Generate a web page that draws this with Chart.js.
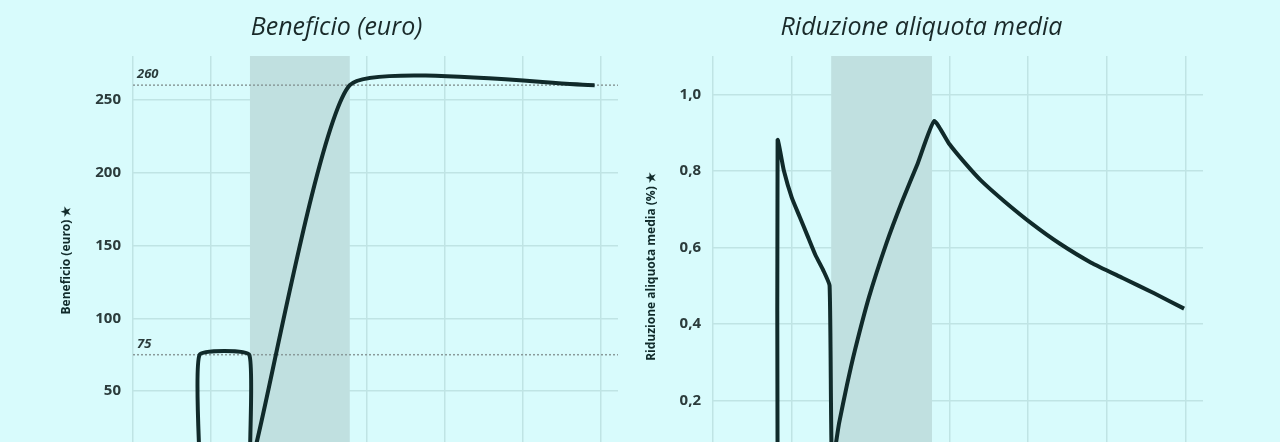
<!DOCTYPE html>
<html><head><meta charset="utf-8">
<script src="https://cdn.jsdelivr.net/npm/chart.js@4"></script>
<style>
html,body{margin:0;padding:0;background:#d8fbfc;overflow:hidden;width:1280px;height:442px}
.c{position:absolute;top:0}
</style></head><body>
<div class="c" style="left:0;width:640px;height:504px"><canvas id="a"></canvas></div>
<div class="c" style="left:640px;width:640px;height:517px"><canvas id="b"></canvas></div>
<script>
const xTicks=[5000,10000,15000,20000,25000,30000,35000];
const beneficioX=[9270,9270,12450,12570,18900,34600];
const beneficioY=[0,75,75,0,260,260];
const aliquotaX=[9100,9100,9500,10000,10500,11000,11500,12000,12400,12550,13000,13500,14000,14900,16000,17000,18000,19040,20000,21000,22000,23500,25300,27000,29000,31000,33000,34900];
const aliquotaY=[0,0.88,0.80,0.73,0.68,0.63,0.58,0.54,0.50,0.03,0.14,0.24,0.33,0.47,0.61,0.72,0.82,0.93,0.87,0.82,0.775,0.72,0.66,0.61,0.56,0.52,0.48,0.44];
const refLines=[260,75];
const band=[12500,18900];

const ink='#102a2a', grid='#bfe4e4';
function pts(xs,ys){return xs.map((x,i)=>({x,y:ys[i]}));}
const shade={id:'shade',beforeDatasetsDraw(c,a,o){const {ctx,chartArea:ca,scales:{x}}=c;ctx.save();ctx.fillStyle='#c0e0e0';
 const x0=x.getPixelForValue(o.from),x1=x.getPixelForValue(o.to);ctx.fillRect(x0,ca.top,x1-x0,ca.bottom-ca.top);ctx.restore();}};
const refLbl={id:'refLbl',afterDatasetsDraw(c,a,o){if(!o.vals)return;const {ctx,chartArea:ca,scales:{y}}=c;ctx.save();ctx.fillStyle='#2b3b3b';
 ctx.font='italic bold 13px "Open Sans"';ctx.textBaseline='bottom';o.vals.forEach(v=>ctx.fillText(String(v),ca.left+4,y.getPixelForValue(v)-4));ctx.restore();}};

function make(id,data,ymax,step,fmtY,ytitle,title,padLeft,yw,padRight,refs){
 const ds=[{data:data,borderColor:ink,borderWidth:4,pointRadius:0,tension:0.15,borderJoinStyle:'miter'}];
 refs.forEach(v=>ds.push({data:[{x:5000,y:v},{x:36100,y:v}],borderColor:'#8a9a9a',borderWidth:1.5,borderDash:[2,2],pointRadius:0}));
 new Chart(document.getElementById(id),{type:'line',data:{datasets:ds},
 options:{responsive:true,maintainAspectRatio:false,animation:false,
  layout:{padding:{right:padRight,left:padLeft,bottom:0,top:0}},
  plugins:{legend:{display:false},tooltip:{enabled:false},
   title:{display:true,text:title,color:'#1a2a2a',font:{family:'Open Sans',size:25,style:'italic',weight:'normal'},padding:{top:13,bottom:13}},
   shade:{from:band[0],to:band[1]},refLbl:{vals:refs}},
  scales:{
   x:{type:'linear',min:5000,max:36100,afterBuildTicks(s){s.ticks=xTicks.map(v=>({value:v}));},afterFit(s){s.height=40;},
    grid:{color:grid,lineWidth:1.5,drawTicks:false},border:{display:false},
    ticks:{color:'#2b3b3b',font:{family:'Open Sans',size:14,weight:'bold'},padding:8,callback:v=>v.toLocaleString('it-IT')}},
   y:{min:0,max:ymax,afterFit(s){s.width=yw;},
    grid:{color:c=>(Math.abs(c.tick.value/step-Math.round(c.tick.value/step))<1e-6?grid:'transparent'),lineWidth:1.5,drawTicks:false},border:{display:false},
    title:{display:true,text:ytitle,color:ink,font:{family:'Open Sans',size:12,weight:'bold'},padding:{bottom:14}},
    ticks:{stepSize:step,color:'#2b3b3b',font:{family:'Open Sans',size:15,weight:'bold'},padding:12,
     callback:v=>(Math.abs(v/step-Math.round(v/step))<1e-6?fmtY(v):'')}}}},
 plugins:[shade,refLbl]});
}
make('a',pts(beneficioX,beneficioY),280,50,v=>String(v),'Beneficio (euro) ★','Beneficio (euro)',55,78,22,refLines);
make('b',pts(aliquotaX,aliquotaY),1.1,0.2,v=>v.toFixed(1).replace('.',','),'Riduzione aliquota media (%) ★','Riduzione aliquota media',0,73,77,[]);
</script></body></html>
